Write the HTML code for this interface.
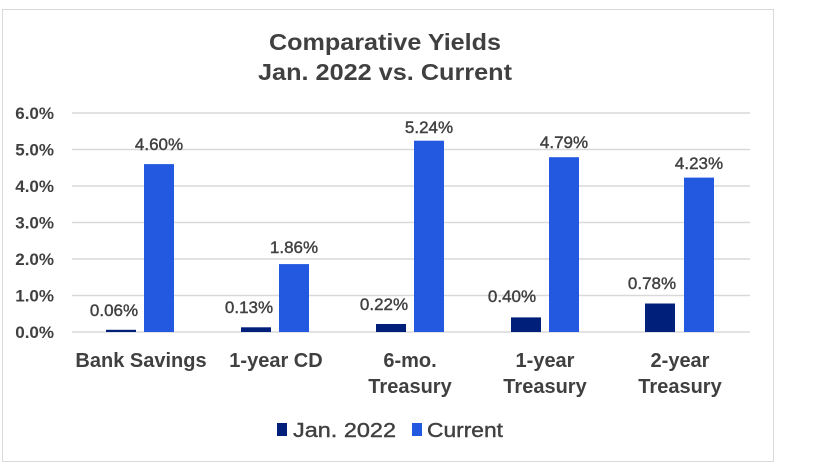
<!DOCTYPE html>
<html><head><meta charset="utf-8"><style>
body{margin:0;background:#fff;}
svg{display:block;font-family:"Liberation Sans",sans-serif;}
</style></head><body>
<svg width="840" height="472" viewBox="0 0 840 472">
<rect x="2.5" y="9.5" width="771" height="452" fill="#fff" stroke="#d9d9d9" stroke-width="1"/>
<g fill="#404040" font-weight="bold" font-size="23" text-anchor="middle">
<text x="385" y="50" textLength="232" lengthAdjust="spacingAndGlyphs">Comparative Yields</text>
<text x="385" y="80" textLength="254" lengthAdjust="spacingAndGlyphs">Jan. 2022 vs. Current</text>
</g>
<g stroke="#d9d9d9" stroke-width="1.5">
<line x1="72" x2="750" y1="113" y2="113"/>
<line x1="72" x2="750" y1="149.5" y2="149.5"/>
<line x1="72" x2="750" y1="186" y2="186"/>
<line x1="72" x2="750" y1="222.5" y2="222.5"/>
<line x1="72" x2="750" y1="259" y2="259"/>
<line x1="72" x2="750" y1="295.5" y2="295.5"/>
<line x1="72" x2="750" y1="332" y2="332"/>
</g>
<g fill="#404040" font-size="17" font-weight="bold" text-anchor="end">
<text x="54" y="119">6.0%</text>
<text x="54" y="155.5">5.0%</text>
<text x="54" y="192">4.0%</text>
<text x="54" y="228.5">3.0%</text>
<text x="54" y="265">2.0%</text>
<text x="54" y="301.5">1.0%</text>
<text x="54" y="338">0.0%</text>
</g>
<g fill="#001f7a">
<rect x="106" y="329.8" width="30" height="2.2"/>
<rect x="241" y="327.3" width="30" height="4.7"/>
<rect x="376" y="324" width="30" height="8"/>
<rect x="511" y="317.4" width="30" height="14.6"/>
<rect x="645" y="303.5" width="30" height="28.5"/>
</g>
<g fill="#2359e0">
<rect x="144" y="164.1" width="30" height="167.9"/>
<rect x="279" y="264.1" width="30" height="67.9"/>
<rect x="414" y="140.7" width="30" height="191.3"/>
<rect x="549" y="157.2" width="30" height="174.8"/>
<rect x="684" y="177.6" width="30" height="154.4"/>
</g>
<g fill="#404040" font-size="17" text-anchor="middle" stroke="#404040" stroke-width="0.4">
<text x="114" y="316">0.06%</text>
<text x="159" y="150">4.60%</text>
<text x="249" y="313">0.13%</text>
<text x="294" y="253">1.86%</text>
<text x="384" y="310">0.22%</text>
<text x="429" y="133">5.24%</text>
<text x="512" y="302">0.40%</text>
<text x="564" y="148">4.79%</text>
<text x="652" y="289">0.78%</text>
<text x="699" y="169">4.23%</text>
</g>
<g fill="#404040" font-size="20" font-weight="bold" text-anchor="middle">
<text x="141" y="367">Bank Savings</text>
<text x="276" y="367">1-year CD</text>
<text x="410" y="367">6-mo.</text>
<text x="410" y="393">Treasury</text>
<text x="545" y="367">1-year</text>
<text x="545" y="393">Treasury</text>
<text x="680" y="367">2-year</text>
<text x="680" y="393">Treasury</text>
</g>
<rect x="277" y="423" width="10" height="13" fill="#001f7a"/>
<text x="293" y="437" fill="#404040" font-size="20" stroke="#404040" stroke-width="0.4" textLength="103" lengthAdjust="spacingAndGlyphs">Jan. 2022</text>
<rect x="412" y="423" width="10" height="13" fill="#2359e0"/>
<text x="427" y="437" fill="#404040" font-size="20" stroke="#404040" stroke-width="0.4" textLength="76" lengthAdjust="spacingAndGlyphs">Current</text>
</svg>
</body></html>
